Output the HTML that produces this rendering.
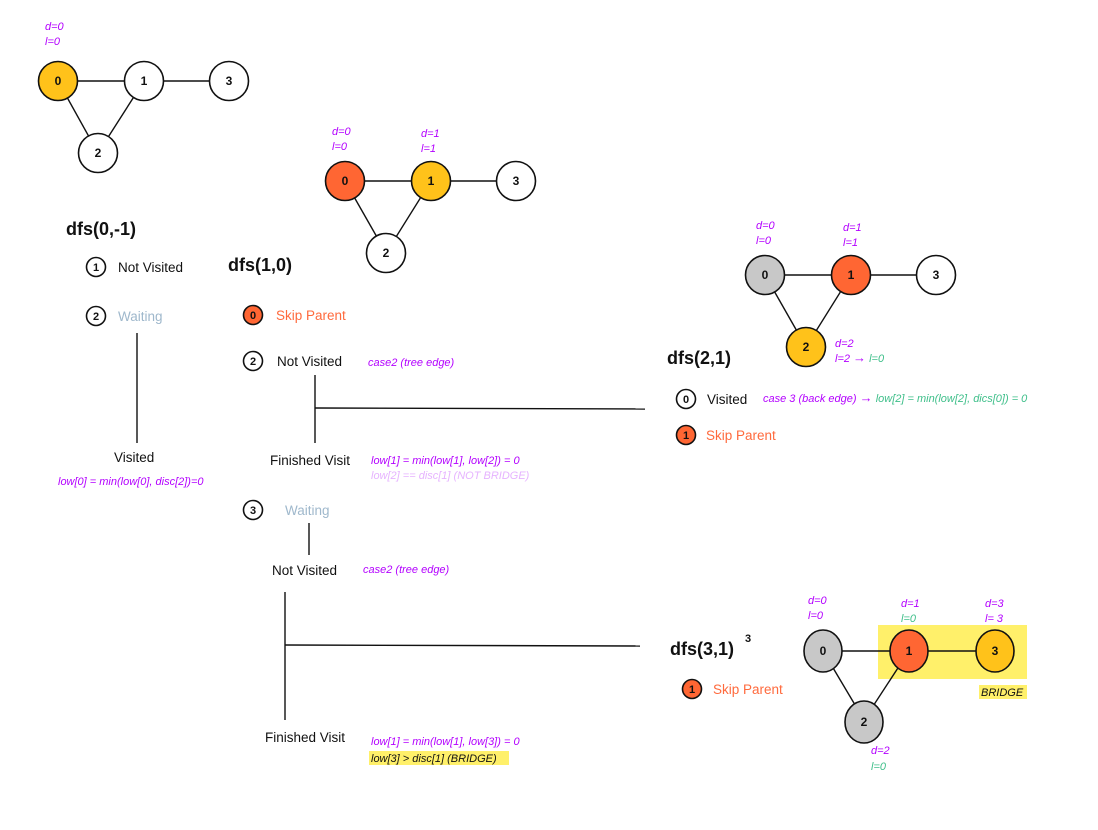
<!DOCTYPE html>
<html><head><meta charset="utf-8"><style>
html,body{margin:0;padding:0;background:#fff;}
svg{display:block;font-family:"Liberation Sans",sans-serif;}
.n{stroke:#111;stroke-width:1.6;}
.e{stroke:#111;stroke-width:1.4;}
.nl{font-size:12px;font-weight:bold;text-anchor:middle;fill:#111;}
.p{font-size:11px;font-style:italic;fill:#b300ff;}
.g{font-size:11px;font-style:italic;fill:#3fbf8a;}
.h{font-size:18px;font-weight:bold;fill:#111;}
.t{font-size:13.5px;fill:#111;}
.o{font-size:13.5px;fill:#ff6a3d;}
.w{font-size:13.5px;fill:#9fb8cc;}
.cn{font-size:11px;font-weight:bold;text-anchor:middle;fill:#111;}
.c{stroke:#111;stroke-width:1.6;}
.ar{font-size:13px;font-style:normal;}
</style></head><body>
<svg width="1098" height="830" viewBox="0 0 1098 830" xmlns="http://www.w3.org/2000/svg">
<!-- Graph 1 -->
<line class="e" x1="58" y1="81" x2="229" y2="81"/>
<line class="e" x1="58" y1="81" x2="98" y2="153"/>
<line class="e" x1="144" y1="81" x2="98" y2="153"/>
<circle class="n" cx="58" cy="81" r="19.5" fill="#ffc21a"/>
<circle class="n" cx="144" cy="81" r="19.5" fill="#fff"/>
<circle class="n" cx="229" cy="81" r="19.5" fill="#fff"/>
<circle class="n" cx="98" cy="153" r="19.5" fill="#fff"/>
<text class="nl" x="58" y="85">0</text><text class="nl" x="144" y="85">1</text><text class="nl" x="229" y="85">3</text><text class="nl" x="98" y="157">2</text>
<text class="p" x="45" y="30">d=0</text><text class="p" x="45" y="45">l=0</text>

<!-- Graph 2 -->
<line class="e" x1="345" y1="181" x2="516" y2="181"/>
<line class="e" x1="345" y1="181" x2="386" y2="253"/>
<line class="e" x1="431" y1="181" x2="386" y2="253"/>
<circle class="n" cx="345" cy="181" r="19.5" fill="#ff6633"/>
<circle class="n" cx="431" cy="181" r="19.5" fill="#ffc21a"/>
<circle class="n" cx="516" cy="181" r="19.5" fill="#fff"/>
<circle class="n" cx="386" cy="253" r="19.5" fill="#fff"/>
<text class="nl" x="345" y="185">0</text><text class="nl" x="431" y="185">1</text><text class="nl" x="516" y="185">3</text><text class="nl" x="386" y="257">2</text>
<text class="p" x="332" y="135">d=0</text><text class="p" x="332" y="150">l=0</text>
<text class="p" x="421" y="137">d=1</text><text class="p" x="421" y="152">l=1</text>

<!-- Graph 3 -->
<line class="e" x1="765" y1="275" x2="936" y2="275"/>
<line class="e" x1="765" y1="275" x2="806" y2="347"/>
<line class="e" x1="851" y1="275" x2="806" y2="347"/>
<circle class="n" cx="765" cy="275" r="19.5" fill="#c8c8c8"/>
<circle class="n" cx="851" cy="275" r="19.5" fill="#ff6633"/>
<circle class="n" cx="936" cy="275" r="19.5" fill="#fff"/>
<circle class="n" cx="806" cy="347" r="19.5" fill="#ffc21a"/>
<text class="nl" x="765" y="279">0</text><text class="nl" x="851" y="279">1</text><text class="nl" x="936" y="279">3</text><text class="nl" x="806" y="351">2</text>
<text class="p" x="756" y="229">d=0</text><text class="p" x="756" y="244">l=0</text>
<text class="p" x="843" y="231">d=1</text><text class="p" x="843" y="246">l=1</text>
<text class="p" x="835" y="347">d=2</text><text class="p" x="835" y="362">l=2 <tspan class="ar">→</tspan> <tspan fill="#3fbf8a">l=0</tspan></text>

<!-- Graph 4 -->
<rect x="878" y="625" width="149" height="54" fill="#fff06a"/>
<line class="e" x1="823" y1="651" x2="995" y2="651"/>
<line class="e" x1="823" y1="651" x2="864" y2="720"/>
<line class="e" x1="909" y1="651" x2="864" y2="720"/>
<ellipse class="n" cx="823" cy="651" rx="19" ry="21" fill="#c8c8c8"/>
<ellipse class="n" cx="909" cy="651" rx="19" ry="21" fill="#ff6633"/>
<ellipse class="n" cx="995" cy="651" rx="19" ry="21" fill="#ffc21a"/>
<ellipse class="n" cx="864" cy="722" rx="19" ry="21" fill="#c8c8c8"/>
<text class="nl" x="823" y="655">0</text><text class="nl" x="909" y="655">1</text><text class="nl" x="995" y="655">3</text><text class="nl" x="864" y="726">2</text>
<text class="p" x="808" y="604">d=0</text><text class="p" x="808" y="619">l=0</text>
<text class="p" x="901" y="607">d=1</text><text class="g" x="901" y="622">l=0</text>
<text class="p" x="985" y="607">d=3</text><text class="p" x="985" y="622">l= 3</text>
<rect x="979" y="685" width="48" height="14" fill="#fff06a"/>
<text x="981" y="696" style="font-size:11px;font-style:italic;fill:#111">BRIDGE</text>
<text class="p" x="871" y="754">d=2</text><text class="g" x="871" y="770">l=0</text>

<!-- dfs(0,-1) -->
<text class="h" x="66" y="235">dfs(0,-1)</text>
<circle class="c" cx="96" cy="267" r="9.5" fill="#fff"/><text class="cn" x="96" y="271">1</text>
<text class="t" x="118" y="272">Not Visited</text>
<circle class="c" cx="96" cy="316" r="9.5" fill="#fff"/><text class="cn" x="96" y="320">2</text>
<text class="w" x="118" y="321">Waiting</text>
<line class="e" x1="137" y1="333" x2="137" y2="443"/>
<text class="t" x="114" y="462">Visited</text>
<text class="p" x="58" y="485">low[0] = min(low[0], disc[2])=0</text>

<!-- dfs(1,0) -->
<text class="h" x="228" y="271">dfs(1,0)</text>
<circle class="c" cx="253" cy="315" r="9.5" fill="#ff6633"/><text class="cn" x="253" y="319">0</text>
<text class="o" x="276" y="320">Skip Parent</text>
<circle class="c" cx="253" cy="361" r="9.5" fill="#fff"/><text class="cn" x="253" y="365">2</text>
<text class="t" x="277" y="366">Not Visited</text>
<text class="p" x="368" y="366">case2 (tree edge)</text>
<line class="e" x1="315" y1="375" x2="315" y2="443"/>
<line class="e" x1="315" y1="408" x2="645" y2="409"/>
<text class="t" x="270" y="465">Finished Visit</text>
<text class="p" x="371" y="464">low[1] = min(low[1], low[2]) = 0</text>
<text class="p" x="371" y="479" style="fill:#e6b3ff">low[2] == disc[1] (NOT BRIDGE)</text>
<circle class="c" cx="253" cy="510" r="9.5" fill="#fff"/><text class="cn" x="253" y="514">3</text>
<text class="w" x="285" y="515">Waiting</text>
<line class="e" x1="309" y1="523" x2="309" y2="555"/>
<text class="t" x="272" y="575">Not Visited</text>
<text class="p" x="363" y="573">case2 (tree edge)</text>
<line class="e" x1="285" y1="592" x2="285" y2="720"/>
<line class="e" x1="285" y1="645" x2="640" y2="646"/>
<text class="t" x="265" y="742">Finished Visit</text>
<text class="p" x="371" y="745">low[1] = min(low[1], low[3]) = 0</text>
<rect x="369" y="751" width="140" height="14" fill="#fff06a"/>
<text x="371" y="762" style="font-size:11px;font-style:italic;fill:#111">low[3] &gt; disc[1] (BRIDGE)</text>

<!-- dfs(2,1) -->
<text class="h" x="667" y="364">dfs(2,1)</text>
<circle class="c" cx="686" cy="399" r="9.5" fill="#fff"/><text class="cn" x="686" y="403">0</text>
<text class="t" x="707" y="404">Visited</text>
<text class="p" x="763" y="402">case 3 (back edge) <tspan class="ar">→</tspan> <tspan fill="#3fbf8a">low[2] = min(low[2], dics[0]) = 0</tspan></text>
<circle class="c" cx="686" cy="435" r="9.5" fill="#ff6633"/><text class="cn" x="686" y="439">1</text>
<text class="o" x="706" y="440">Skip Parent</text>

<!-- dfs(3,1) -->
<text class="h" x="670" y="655">dfs(3,1)</text>
<text x="745" y="642" style="font-size:11px;font-weight:bold;fill:#111">3</text>
<circle class="c" cx="692" cy="689" r="9.5" fill="#ff6633"/><text class="cn" x="692" y="693">1</text>
<text class="o" x="713" y="694">Skip Parent</text>
</svg>
</body></html>
